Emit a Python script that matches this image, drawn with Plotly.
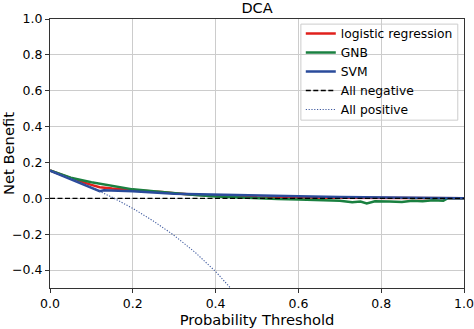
import plotly.graph_objects as go

# thresholds and net benefit values
lr_x = [0.0, 0.05, 0.10, 0.12, 0.15, 0.20, 0.25, 0.27, 0.30, 0.35, 0.40, 0.45, 0.50, 0.55, 0.60, 0.70, 0.80, 0.90, 1.0]
lr_y = [0.155, 0.112, 0.075, 0.062, 0.055, 0.045, 0.038, 0.036, 0.028, 0.020, 0.014, 0.010, 0.006, 0.004, 0.004, 0.003, 0.002, 0.001, 0.0]

gnb_x = [0.0, 0.05, 0.10, 0.15, 0.20, 0.25, 0.30, 0.35, 0.40, 0.45, 0.50, 0.55, 0.60, 0.65, 0.70, 0.73, 0.75, 0.765, 0.785, 0.82, 0.85, 0.875, 0.90, 0.925, 0.95, 0.96, 1.0]
gnb_y = [0.155, 0.115, 0.090, 0.068, 0.050, 0.040, 0.028, 0.018, 0.010, 0.004, 0.000, -0.004, -0.006, -0.008, -0.013, -0.022, -0.018, -0.028, -0.016, -0.018, -0.020, -0.013, -0.016, -0.011, -0.013, 0.0, 0.0]

svm_x = [0.0, 0.05, 0.10, 0.12, 0.13, 0.20, 0.30, 0.40, 0.50, 0.60, 0.70, 0.80, 0.90, 1.0]
svm_y = [0.155, 0.107, 0.060, 0.040, 0.045, 0.040, 0.026, 0.020, 0.016, 0.012, 0.008, 0.005, 0.002, 0.0]

none_x = [0.0, 1.0]
none_y = [0.0, 0.0]

all_x = [0.0, 0.05, 0.10, 0.15, 0.20, 0.25, 0.30, 0.35, 0.40, 0.45]
all_y = [0.155, 0.111, 0.061, 0.006, -0.056, -0.127, -0.207, -0.300, -0.408, -0.536]

x_ticks = [0.0, 0.2, 0.4, 0.6, 0.8, 1.0]
y_ticks = [-0.4, -0.2, 0.0, 0.2, 0.4, 0.6, 0.8, 1.0]

FONT = "DejaVu Sans"

fig = go.Figure()
fig.add_trace(go.Scatter(x=lr_x, y=lr_y, mode="lines", name="logistic regression",
                         line=dict(color="#e0201c", width=2.5)))
fig.add_trace(go.Scatter(x=gnb_x, y=gnb_y, mode="lines", name="GNB",
                         line=dict(color="#1a8040", width=2.5)))
fig.add_trace(go.Scatter(x=svm_x, y=svm_y, mode="lines", name="SVM",
                         line=dict(color="#2a4b9b", width=2.5)))
fig.add_trace(go.Scatter(x=none_x, y=none_y, mode="lines", name="All negative",
                         line=dict(color="black", width=1.3, dash="5px,2.5px")))
fig.add_trace(go.Scatter(x=all_x, y=all_y, mode="lines", name="All positive",
                         line=dict(color="#3f5a9f", width=1.1, dash="1.2px,1.6px")))

# legend frame (matplotlib-style box)
fig.add_shape(type="rect", xref="paper", yref="paper",
              x0=0.606, x1=0.985, y0=0.624, y1=0.981,
              line=dict(color="#cccccc", width=1), fillcolor="rgba(255,255,255,0.85)",
              layer="below")

fig.update_layout(
    width=474, height=329,
    margin=dict(l=50, r=10, t=19, b=41, autoexpand=False),
    paper_bgcolor="white", plot_bgcolor="white",
    font=dict(family=FONT, size=12.5, color="black"),
    title=dict(text="DCA", x=0.5, xref="paper", xanchor="center",
               y=1, yref="paper", yanchor="bottom", pad=dict(b=6),
               font=dict(size=14.5)),
    legend=dict(x=0.985, y=1.0, xanchor="right", yanchor="top",
                bgcolor="rgba(0,0,0,0)", borderwidth=0,
                font=dict(size=12.3), tracegroupgap=0, itemwidth=30),
    showlegend=True,
)
fig.update_xaxes(range=[0, 1], tickvals=x_ticks, ticktext=[f"{v:.1f}" for v in x_ticks],
                 automargin=False, ticklabeloverflow="allow",
                 showgrid=True, gridcolor="#cccccc", gridwidth=1,
                 showline=True, linecolor="#333333", linewidth=1.2, mirror=True,
                 ticks="outside", ticklen=4, tickcolor="#333333", zeroline=False,
                 tickfont=dict(size=12.5),
                 title=dict(text="Probability Threshold", font=dict(size=14.7), standoff=2))
fig.update_yaxes(range=[-0.5, 1.0], tickvals=y_ticks,
                 ticktext=[(f"{v:.1f}").replace("-", "\u2212") for v in y_ticks],
                 automargin=False, ticklabeloverflow="allow",
                 showgrid=True, gridcolor="#cccccc", gridwidth=1,
                 showline=True, linecolor="#333333", linewidth=1.2, mirror=True,
                 ticks="outside", ticklen=4, tickcolor="#333333", zeroline=False,
                 tickfont=dict(size=12.5),
                 title=dict(text="Net Benefit", font=dict(size=14.7), standoff=2))

fig.write_html("out.html")
